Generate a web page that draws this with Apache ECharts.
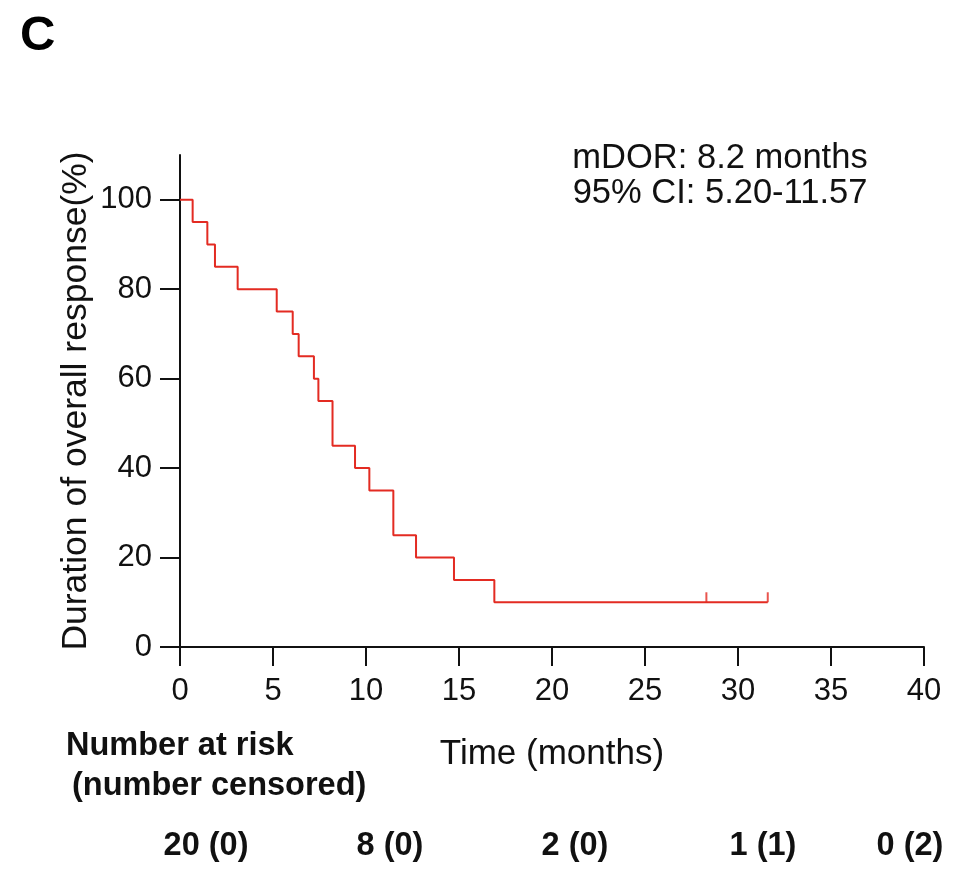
<!DOCTYPE html>
<html>
<head>
<meta charset="utf-8">
<script src="https://cdn.jsdelivr.net/npm/echarts@6.0.0/dist/echarts.min.js"></script>
<style>
    html, body { margin: 0; padding: 0; background: #fff; }
    #chart { width: 978px; height: 882px; }
</style>
</head>
<body>
<div id="chart"></div>
<script>
// KM step curve: event times (months) and survival (%) after each event
const eventTimes = [0, 0.68, 1.47, 1.88, 3.1, 5.2, 6.06, 6.38, 7.2, 7.44, 8.2, 9.41, 10.18, 11.47, 12.69, 14.73, 16.9, 31.6]
const survival = [100, 95, 90, 85, 80, 75, 70, 65, 60, 55, 45, 40, 35, 25, 20, 15, 10, 10]

// censored observations
const censorTimes = [28.3, 31.6]
const censorSurvival = [10, 10]

const yTicks = [0, 20, 40, 60, 80, 100]

// number at risk table
const riskLabels = ['20 (0)', '8 (0)', '2 (0)', '1 (1)', '0 (2)']
const riskX = [206, 390, 575, 763, 910]

const annotation = ['mDOR: 8.2 months', '95% CI: 5.20-11.57']

const FONT = 'Liberation Sans, Arial, sans-serif'
const RED = '#e32b22'

const chart = echarts.init(document.getElementById('chart'))

const option = {
    backgroundColor: '#fff',
    animation: false,
    grid: {
        left: 180,
        right: 54,
        top: 155,
        bottom: 235,
        containLabel: false,
        outerBoundsMode: 'none'
    },
    xAxis: {
        type: 'value',
        min: 0,
        max: 40,
        interval: 5,
        name: 'Time (months)',
        nameLocation: 'middle',
        nameGap: 90,
        nameMoveOverlap: false,
        nameTextStyle: { fontFamily: FONT, fontSize: 35, color: '#111' },
        splitLine: { show: false },
        axisLine: { onZero: false, lineStyle: { color: '#111', width: 2 } },
        axisTick: { length: 19, lineStyle: { color: '#111', width: 2 } },
        axisLabel: { margin: 29, fontFamily: FONT, fontSize: 31, color: '#111' }
    },
    yAxis: {
        type: 'value',
        min: 0,
        max: 110,
        name: 'Duration of overall response(%)',
        nameLocation: 'middle',
        nameGap: 86,
        nameRotate: 90,
        nameMoveOverlap: false,
        nameTextStyle: { fontFamily: FONT, fontSize: 35.5, color: '#111' },
        splitLine: { show: false },
        axisLine: { show: true, lineStyle: { color: '#111', width: 2 } },
        axisTick: { show: true, length: 20, customValues: yTicks, lineStyle: { color: '#111', width: 2 } },
        axisLabel: { margin: 28, customValues: yTicks, fontFamily: FONT, fontSize: 31, color: '#111' }
    },
    series: [
        {
            name: 'KM',
            type: 'line',
            step: 'end',
            symbol: 'none',
            lineStyle: { color: RED, width: 2 },
            data: eventTimes.map((t, i) => [t, survival[i]]),
            z: 3
        },
        {
            name: 'censored',
            type: 'scatter',
            symbol: 'rect',
            symbolSize: [2, 10],
            symbolOffset: [0, -5],
            itemStyle: { color: RED },
            data: censorTimes.map((t, i) => [t, censorSurvival[i]]),
            z: 4
        }
    ],
    graphic: [
        {
            type: 'text', left: 20, top: 12,
            style: { text: 'C', fontFamily: FONT, fontWeight: 'bold', fontSize: 49, fill: '#000' }
        },
        ...annotation.map((t, i) => ({
            type: 'text', x: 720, y: 158 + i * 35,
            style: { text: t, fontFamily: FONT, fontSize: 34.5, fill: '#111', align: 'center', verticalAlign: 'middle' }
        })),
        {
            type: 'text', x: 66, y: 746,
            style: { text: 'Number at risk', fontFamily: FONT, fontWeight: 'bold', fontSize: 32.5, fill: '#111', verticalAlign: 'middle' }
        },
        {
            type: 'text', x: 72, y: 786,
            style: { text: '(number censored)', fontFamily: FONT, fontWeight: 'bold', fontSize: 32.5, fill: '#111', verticalAlign: 'middle' }
        },
        ...riskLabels.map((t, i) => ({
            type: 'text', x: riskX[i], y: 846,
            style: { text: t, fontFamily: FONT, fontWeight: 'bold', fontSize: 32.5, fill: '#111', align: 'center', verticalAlign: 'middle' }
        }))
    ]
}

chart.setOption(option)
</script>
</body>
</html>
